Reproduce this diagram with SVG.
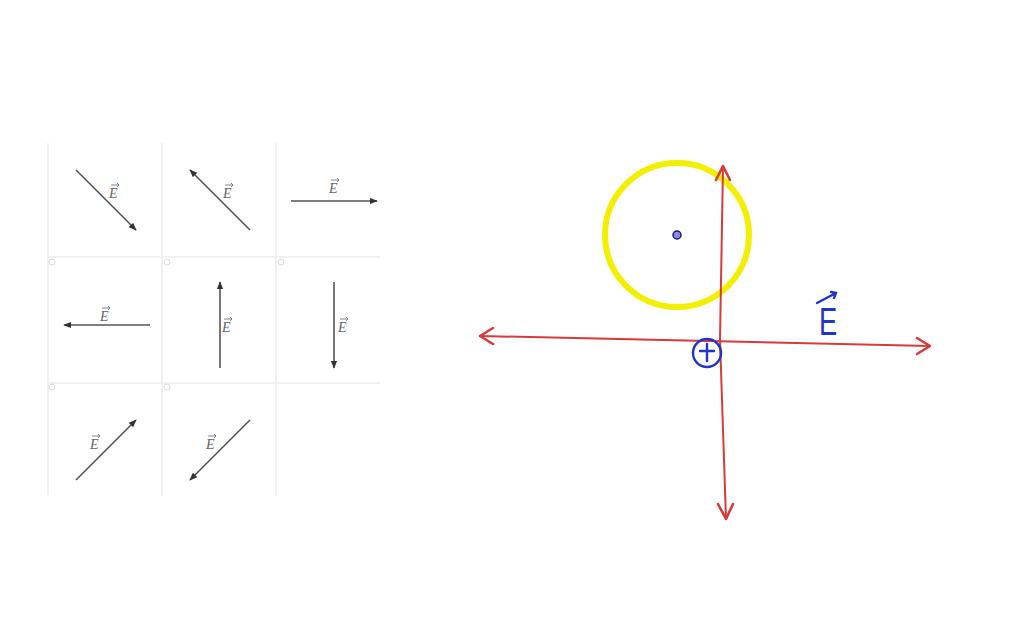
<svg xmlns="http://www.w3.org/2000/svg" width="1024" height="640" viewBox="0 0 1024 640">
<style>
.grid{stroke:#ececec;stroke-width:1.5;fill:none}
.dot{stroke:#dcdcdc;stroke-width:1;fill:#fff}
.vec{stroke:#555;stroke-width:1.6;fill:none}
.lbl{font-family:"Liberation Serif",serif;font-style:italic;font-size:14px;fill:#666}
.lar{stroke:#666;stroke-width:0.8;fill:none}
.red{stroke:#d83a3a;stroke-width:2;fill:none;stroke-linecap:round}
.redh{stroke:#d83a3a;stroke-width:2.6;fill:none;stroke-linecap:round;stroke-linejoin:round}
.blue{stroke:#2233c8;stroke-width:2.4;fill:none;stroke-linecap:round}
</style>
<defs>
<marker id="ah" viewBox="0 0 10 10" refX="9" refY="5" markerWidth="5" markerHeight="5" orient="auto-start-reverse">
<path d="M0,1 L10,5 L0,9 Z" fill="#333"/>
</marker>
</defs>
<rect width="1024" height="640" fill="#fff"/>
<g id="grid">
<line class="grid" x1="48" y1="143" x2="48" y2="495"/>
<line class="grid" x1="162" y1="143" x2="162" y2="495"/>
<line class="grid" x1="276" y1="143" x2="276" y2="495"/>
<line class="grid" x1="48" y1="257" x2="380" y2="257"/>
<line class="grid" x1="48" y1="383" x2="380" y2="383"/>
<circle class="dot" cx="52" cy="262" r="3"/>
<circle class="dot" cx="167" cy="262" r="3"/>
<circle class="dot" cx="281" cy="262" r="3"/>
<circle class="dot" cx="52" cy="387" r="3"/>
<circle class="dot" cx="167" cy="387" r="3"/>
</g>
<g id="cell1">
<line class="vec" x1="76" y1="170" x2="136" y2="230" marker-end="url(#ah)"/>
<text class="lbl" x="109" y="198">E</text><path class="lar" d="M111,185 L119,185 M117,183 L119,185 L117,187"/>
</g>
<g id="cell2">
<line class="vec" x1="190" y1="170" x2="250" y2="230" marker-start="url(#ah)"/>
<text class="lbl" x="223" y="198">E</text><path class="lar" d="M225,185 L233,185 M231,183 L233,185 L231,187"/>
</g>
<g id="cell3">
<line class="vec" x1="291" y1="201" x2="377" y2="201" marker-end="url(#ah)"/>
<text class="lbl" x="329" y="193">E</text><path class="lar" d="M331,180 L339,180 M337,178 L339,180 L337,182"/>
</g>
<g id="cell4">
<line class="vec" x1="150" y1="325" x2="64" y2="325" marker-end="url(#ah)"/>
<text class="lbl" x="100" y="321">E</text><path class="lar" d="M102,308 L110,308 M108,306 L110,308 L108,310"/>
</g>
<g id="cell5">
<line class="vec" x1="220" y1="368" x2="220" y2="282" marker-end="url(#ah)"/>
<text class="lbl" x="222" y="332">E</text><path class="lar" d="M224,319 L232,319 M230,317 L232,319 L230,321"/>
</g>
<g id="cell6">
<line class="vec" x1="334" y1="282" x2="334" y2="368" marker-end="url(#ah)"/>
<text class="lbl" x="338" y="332">E</text><path class="lar" d="M340,319 L348,319 M346,317 L348,319 L346,321"/>
</g>
<g id="cell7">
<line class="vec" x1="76" y1="480" x2="136" y2="420" marker-end="url(#ah)"/>
<text class="lbl" x="90" y="449">E</text><path class="lar" d="M92,436 L100,436 M98,434 L100,436 L98,438"/>
</g>
<g id="cell8">
<line class="vec" x1="250" y1="420" x2="190" y2="480" marker-end="url(#ah)"/>
<text class="lbl" x="206" y="449">E</text><path class="lar" d="M208,436 L216,436 M214,434 L216,436 L214,438"/>
</g>
<g id="sketch">
<circle id="ring" cx="677" cy="235" r="72" fill="none" stroke="#f2f000" stroke-width="6"/>
<circle id="point" cx="677" cy="235" r="4" fill="#8a8ae8" stroke="#1a1a70" stroke-width="1.5"/>
<path class="red" d="M480,336 L930,346"/>
<path class="redh" d="M493,328 L480,336 L493,344"/>
<path class="redh" d="M917,338 L930,346 L917,354"/>
<path class="red" d="M723,166 L720,340 L726,519"/>
<path class="redh" d="M716,180 L723,166 L730,180"/>
<path class="redh" d="M718,504 L726,519 L733,504"/>
<g id="charge">
<circle class="blue" cx="707" cy="353" r="14"/>
<path class="blue" d="M700,351 L714,351 M707,344 L707,361"/>
</g>
<g id="elabel">
<text transform="translate(819,335) scale(0.72,1)" font-family="Liberation Sans, sans-serif" font-size="38" fill="#2233c8">E</text>
<path class="blue" d="M817,303 L836,293 M831,292 L836,293 L834,298"/>
</g>
</g>
</svg>
